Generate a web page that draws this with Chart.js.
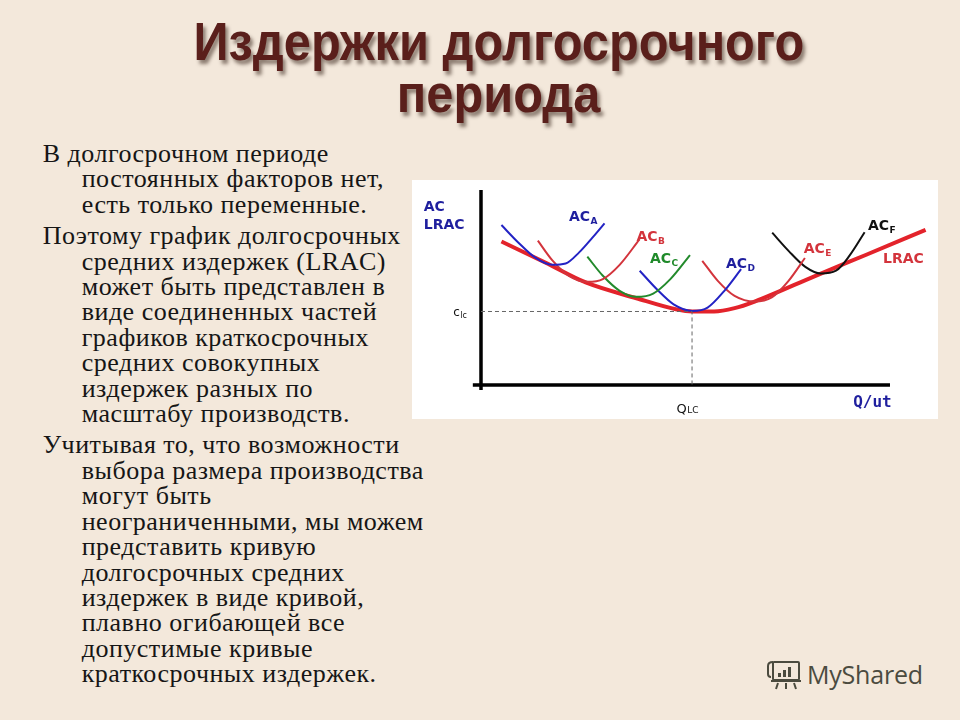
<!DOCTYPE html>
<html lang="ru">
<head>
<meta charset="utf-8">
<title>Издержки долгосрочного периода</title>
<script src="https://cdn.jsdelivr.net/npm/chart.js@4.4.1/dist/chart.umd.min.js"></script>
<style>
  html, body { margin: 0; padding: 0; }
  body { width: 960px; height: 720px; background: #f3e8db; position: relative; overflow: hidden; }
  .title {
    position: absolute; left: 38px; top: 16px; width: 922px;
    text-align: center; font-family: "Liberation Sans", Arial, sans-serif;
    font-weight: bold; font-size: 53px; line-height: 52px; color: #5a1f1b;
    text-shadow: 3px 4px 4px rgba(40, 20, 10, 0.5);
  }
  .title span { display: inline-block; transform: scaleX(0.92); transform-origin: center; white-space: nowrap; }
  .body-text {
    position: absolute; left: 42.7px; top: 141px; width: 420px;
    font-family: "Liberation Serif", "Times New Roman", serif; font-size: 26px; line-height: 25.4px;
    letter-spacing: 0.5px; color: #161616;
  }
  .body-text p { margin: 0 0 6px 0; padding-left: 39px; text-indent: -39px; }
  #chartBox { position: absolute; left: 412px; top: 180px; width: 526px; height: 239px; background: #fff; }
  .logo { position: absolute; left: 766px; top: 656px; height: 36px; display: flex; align-items: center; }
  .logo span { font-family: "Open Sans", sans-serif; font-size: 25px; color: #4b4b3f; margin-left: 5px; letter-spacing: -0.2px; }
</style>
</head>
<body>
<div class="title"><span>Издержки долгосрочного</span><br><span>периода</span></div>

<div class="body-text">
  <p>В долгосрочном периоде<br>постоянных факторов нет,<br>есть только переменные.</p>
  <p>Поэтому график долгосрочных<br>средних издержек (LRAC)<br>может быть представлен в<br>виде соединенных частей<br>графиков краткосрочных<br>средних совокупных<br>издержек разных по<br>масштабу производств.</p>
  <p>Учитывая то, что возможности<br>выбора размера производства<br>могут быть<br>неограниченными, мы можем<br>представить кривую<br>долгосрочных средних<br>издержек в виде кривой,<br>плавно огибающей все<br>допустимые кривые<br>краткосрочных издержек.</p>
</div>

<div id="chartBox"><canvas id="chart"></canvas></div>

<div class="logo">
  <svg width="36" height="34" viewBox="0 0 36 34">
    <g fill="none" stroke="#4b4b3f" stroke-width="2">
      <rect x="7" y="5" width="26" height="18" rx="1"/>
      <path d="M7 5 q-5 0 -5 4 v8 q0 3 3 3"/>
      <path d="M12 26 l-2 6 M20 26 v6 M28 26 l2 6"/>
    </g>
    <g fill="#4b4b3f">
      <rect x="12" y="16" width="3" height="4"/>
      <rect x="17" y="13" width="3" height="7"/>
      <rect x="22" y="10" width="3" height="10"/>
      <rect x="5" y="23" width="30" height="2"/>
    </g>
  </svg>
  <span>MyShared</span>
</div>

<script>
// ── данные графика (условные единицы: Q по оси x, издержки по оси y) ──
const qLC = 51.6;   // объём выпуска с минимальными LRAC
const cLC = 37.7;   // минимальные долгосрочные средние издержки

const lracQ = [5.0, 15.7, 25.6, 38.0, 47.9, 51.6, 57.0, 62.0, 66.9, 81.8, 94.2, 108.7];
const lracC = [73.6, 62.8, 52.6, 44.5, 38.7, 37.7, 37.7, 39.4, 42.8, 56.0, 66.8, 79.5];

const acAQ = [5.0, 9.1, 13.2, 17.4, 20.7, 24.0, 27.3, 30.2];
const acAC = [82.0, 73.1, 65.4, 61.6, 62.3, 68.0, 75.7, 82.9];

const acBQ = [13.9, 17.4, 21.5, 26.0, 29.8, 33.9, 38.8];
const acBC = [74.0, 64.0, 56.0, 52.9, 54.3, 61.6, 74.8];

const acCQ = [26.0, 29.8, 33.9, 38.0, 42.1, 46.3, 51.1];
const acCC = [65.8, 56.0, 48.3, 45.2, 46.9, 54.3, 66.6];

const acDQ = [38.8, 43.0, 47.1, 51.7, 55.4, 59.5, 63.6];
const acDC = [58.6, 49.1, 41.4, 38.0, 39.7, 48.3, 59.4];

const acEQ = [54.1, 57.9, 62.0, 66.9, 71.1, 75.2, 79.2];
const acEC = [63.7, 53.4, 45.7, 42.8, 44.9, 53.4, 65.1];

const acFQ = [71.2, 75.2, 79.3, 83.1, 86.8, 90.1, 93.8];
const acFC = [78.1, 68.8, 60.6, 57.2, 58.6, 66.3, 78.3];

// ── оформление ──
const X_MIN = -16.87, X_MAX = 111.74;
const Y_MIN = -17.4, Y_MAX = 105.1;
const AXIS_END = 100;
const NAVY = '#1f1f9e', RED = '#e3232b', DARKRED = '#d3343c', GREEN = '#1f8a2a', BLACK = '#111';
const BOLD = 'bold 14px "DejaVu Sans", sans-serif';
const SUB_BOLD = 'bold 9px "DejaVu Sans", sans-serif';

// подписи: [x, y (базовая линия), текст, индекс, цвет, шрифт, шрифт индекса, сдвиг индекса]
const chartLabels = [
  [-14.0, 89.4, 'AC', '', NAVY, BOLD],
  [-14.0, 80.0, 'LRAC', '', NAVY, BOLD],
  [21.5, 84.2, 'AC', 'A', NAVY, BOLD, SUB_BOLD, 3],
  [38.0, 74.0, 'AC', 'B', DARKRED, BOLD, SUB_BOLD, 3],
  [41.3, 62.8, 'AC', 'C', GREEN, BOLD, SUB_BOLD, 3],
  [59.9, 59.9, 'AC', 'D', NAVY, BOLD, SUB_BOLD, 3],
  [78.9, 67.5, 'AC', 'E', DARKRED, BOLD, SUB_BOLD, 3],
  [94.6, 79.6, 'AC', 'F', BLACK, BOLD, SUB_BOLD, 3],
  [98.3, 62.8, 'LRAC', '', DARKRED, BOLD],
  [-6.8, 35.4, 'c', 'lc', BLACK, '12px "DejaVu Sans", sans-serif', '8px "DejaVu Sans", sans-serif', 2],
  [47.8, -14.5, 'Q', 'LC', BLACK, '13px "DejaVu Sans", sans-serif', '9px "DejaVu Sans", sans-serif', 0],
  [91.0, -11.4, 'Q/ut', '', NAVY, 'bold 16px "DejaVu Sans Mono", monospace'],
];

function pts(xs, ys) { return xs.map((x, i) => ({ x, y: ys[i] })); }

function curve(label, xs, ys, color, width) {
  return {
    label, data: pts(xs, ys), showLine: true, borderColor: color, backgroundColor: color,
    borderWidth: width, pointRadius: 0, cubicInterpolationMode: 'monotone', fill: false,
  };
}

// оси и подписи рисуются через шкалы Chart.js
const sketchPlugin = {
  id: 'sketch',
  beforeDatasetsDraw(chart) {
    const { ctx, scales: { x, y } } = chart;
    ctx.save();
    ctx.strokeStyle = '#000';
    ctx.lineWidth = 3.5;
    ctx.lineCap = 'butt';
    ctx.beginPath();
    ctx.moveTo(x.getPixelForValue(0), y.getPixelForValue(-2.6));
    ctx.lineTo(x.getPixelForValue(0), y.getPixelForValue(AXIS_END));
    ctx.moveTo(x.getPixelForValue(-2), y.getPixelForValue(0));
    ctx.lineTo(x.getPixelForValue(AXIS_END), y.getPixelForValue(0));
    ctx.stroke();
    ctx.restore();
  },
  afterDraw(chart) {
    const { ctx, scales: { x, y } } = chart;
    ctx.save();
    ctx.textBaseline = 'alphabetic';
    chartLabels.forEach(([lx, ly, text, sub, color, font, subFont, subDy]) => {
      const px = x.getPixelForValue(lx), py = y.getPixelForValue(ly);
      ctx.fillStyle = color;
      ctx.font = font;
      ctx.fillText(text, px, py);
      if (sub) {
        const w = ctx.measureText(text).width;
        ctx.font = subFont;
        ctx.fillText(sub, px + w + 0.5, py + subDy);
      }
    });
    ctx.restore();
  },
};

new Chart(document.getElementById('chart'), {
  type: 'scatter',
  data: {
    datasets: [
      {
        label: 'guide', data: [{ x: 0, y: cLC }, { x: qLC, y: cLC }, { x: qLC, y: 0 }],
        showLine: true, borderColor: '#666', borderWidth: 1, borderDash: [4, 3], pointRadius: 0, tension: 0,
      },
      curve('ACA', acAQ, acAC, '#2323c4', 2),
      curve('ACB', acBQ, acBC, DARKRED, 2),
      curve('ACC', acCQ, acCC, '#238a2c', 2),
      curve('ACD', acDQ, acDC, '#2323c4', 2),
      curve('ACE', acEQ, acEC, DARKRED, 2),
      curve('ACF', acFQ, acFC, BLACK, 2),
      curve('LRAC', lracQ, lracC, RED, 4),
    ],
  },
  options: {
    responsive: true, maintainAspectRatio: false, animation: false,
    layout: { padding: 0 },
    plugins: { legend: { display: false }, tooltip: { enabled: false } },
    scales: {
      x: { type: 'linear', display: false, min: X_MIN, max: X_MAX },
      y: { type: 'linear', display: false, min: Y_MIN, max: Y_MAX },
    },
  },
  plugins: [sketchPlugin],
});
</script>
</body>
</html>
